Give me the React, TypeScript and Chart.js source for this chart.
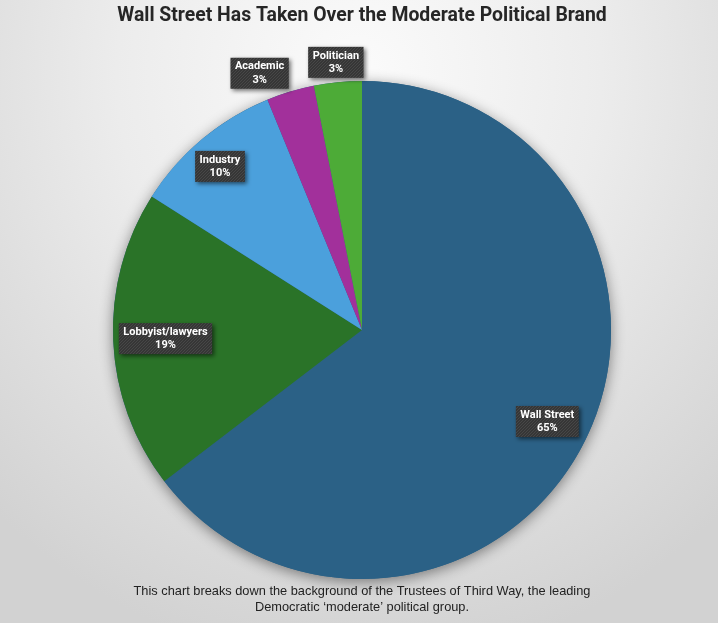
import React, { useRef, useEffect } from "react";
import { Chart, registerables } from "chart.js";

Chart.register(...registerables);

// trustee backgrounds, share of total (%)
const categories = ["Wall Street", "Lobbyist/lawyers", "Industry", "Academic", "Politician"];
const shares = [64.6, 19.4, 9.8, 3.1, 3.1];
const sliceColors = ["#2b6186", "#2a7328", "#4ba0dc", "#a2309b", "#4dab37"];

// label placement: fraction of radius and angle nudge (deg)
const labelRadius = [0.83, 0.79, 0.87, 1.11, 1.08];
const labelShift = [0, 0, -1, -5, 0];

const titleText = "Wall Street Has Taken Over the Moderate Political Brand";
const footerLines = [
  "This chart breaks down the background of the Trustees of Third Way, the leading",
  "Democratic \u2018moderate\u2019 political group.",
];

const makePattern = (ctx: CanvasRenderingContext2D) => {
  const c = document.createElement("canvas");
  c.width = 3;
  c.height = 3;
  const p = c.getContext("2d")!;
  p.fillStyle = "#363636";
  p.fillRect(0, 0, 3, 3);
  p.fillStyle = "#474747";
  p.fillRect(0, 0, 1, 1);
  p.fillRect(2, 1, 1, 1);
  p.fillRect(1, 2, 1, 1);
  return ctx.createPattern(c, "repeat");
};

const pieShadow = {
  id: "pieShadow",
  beforeDatasetsDraw(chart: any) {
    const arc = chart.getDatasetMeta(0).data[0];
    if (!arc) return;
    const { ctx } = chart;
    ctx.save();
    ctx.shadowColor = "rgba(0,0,0,0.45)";
    ctx.shadowBlur = 14;
    ctx.shadowOffsetY = 3;
    ctx.fillStyle = sliceColors[0];
    ctx.beginPath();
    ctx.arc(arc.x, arc.y, arc.outerRadius, 0, Math.PI * 2);
    ctx.fill();
    ctx.restore();
  },
};

const boxLabels = {
  id: "boxLabels",
  afterDatasetsDraw(chart: any) {
    const { ctx } = chart;
    const meta = chart.getDatasetMeta(0);
    const values: number[] = chart.data.datasets[0].data;
    const total = values.reduce((a, b) => a + b, 0);
    const pattern = makePattern(ctx);
    ctx.save();
    ctx.font = "bold 11px Roboto";
    ctx.textAlign = "center";
    ctx.textBaseline = "middle";
    meta.data.forEach((arc: any, i: number) => {
      const mid = (arc.startAngle + arc.endAngle) / 2 + (labelShift[i] * Math.PI) / 180;
      const r = arc.outerRadius * labelRadius[i];
      const x = arc.x + r * Math.cos(mid);
      const y = arc.y + r * Math.sin(mid);
      const l1 = chart.data.labels[i];
      const l2 = Math.round((values[i] / total) * 100) + "%";
      const w = Math.max(ctx.measureText(l1).width, ctx.measureText(l2).width) + 9;
      const h = 31;
      ctx.save();
      ctx.shadowColor = "rgba(0,0,0,0.55)";
      ctx.shadowBlur = 4;
      ctx.shadowOffsetX = 2;
      ctx.shadowOffsetY = 2;
      ctx.fillStyle = pattern || "#3a3a3a";
      ctx.fillRect(x - w / 2, y - h / 2, w, h);
      ctx.restore();
      ctx.fillStyle = "#ffffff";
      ctx.fillText(l1, x, y - 6.5);
      ctx.fillText(l2, x, y + 7);
    });
    ctx.restore();
  },
};

const App = () => {
  const chartRef = useRef<HTMLCanvasElement>(null);
  const chartInstanceRef = useRef<any>(null);

  useEffect(() => {
    document.body.style.margin = "0";
    const ctx = chartRef.current!.getContext("2d")!;

    if (chartInstanceRef.current) {
      chartInstanceRef.current.destroy();
    }

    chartInstanceRef.current = new Chart(ctx, {
      type: "pie",
      data: {
        labels: categories,
        datasets: [
          {
            data: shares,
            backgroundColor: sliceColors,
            borderWidth: 0,
            hoverOffset: 0,
          },
        ],
      },
      options: {
        responsive: false,
        animation: false,
        layout: { padding: { left: 6, right: 0, top: 0, bottom: 0 } },
        plugins: {
          legend: { display: false },
          tooltip: { enabled: false },
          title: {
            display: true,
            text: titleText,
            color: "#262626",
            font: { family: "Roboto", size: 19.4, weight: "bold", lineHeight: 1.2 },
            padding: { top: 4.4, bottom: 53.3 },
          },
          subtitle: {
            display: true,
            position: "bottom",
            text: footerLines,
            color: "#222222",
            font: { family: "Liberation Sans", size: 12.8, weight: "normal", lineHeight: 1.2 },
            padding: { top: 5.3, bottom: 8 },
          },
        },
      },
      plugins: [pieShadow, boxLabels],
    });

    return () => {
      if (chartInstanceRef.current) {
        chartInstanceRef.current.destroy();
      }
    };
  }, []);

  return (
    <div
      style={{
        width: 718,
        height: 623,
        background:
          "radial-gradient(ellipse 75% 95% at 50% 12%, #fbfbfb 0%, #ececec 45%, #d2d2d2 100%)",
      }}
    >
      <canvas ref={chartRef} width={718} height={623} />
    </div>
  );
};

export default App;
